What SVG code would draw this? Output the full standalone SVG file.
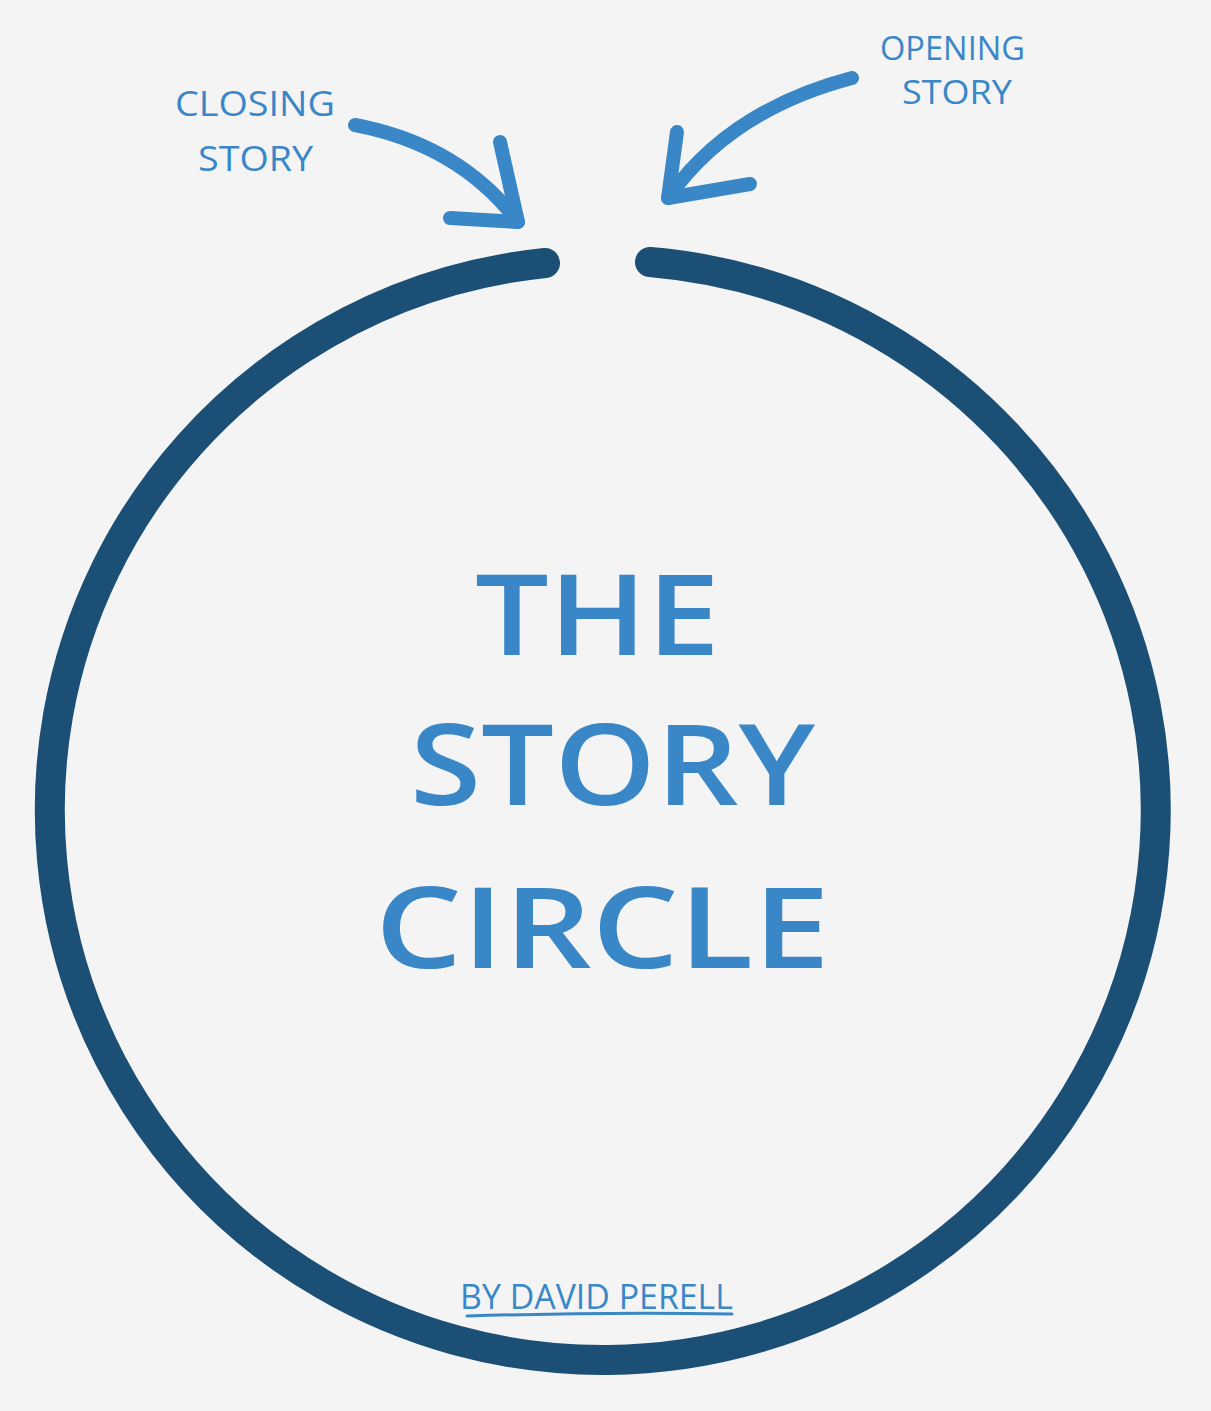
<svg xmlns="http://www.w3.org/2000/svg" width="1211" height="1411" viewBox="0 0 1211 1411">
<style>
.lbl{fill:#3a87c8;font-family:"Open Sans","DejaVu Sans",sans-serif}
.ar{fill:none;stroke:#3a87c8;stroke-width:14;stroke-linecap:round;stroke-linejoin:round}
</style>
<rect width="1211" height="1411" fill="#f4f4f4"/>
<g id="circle">
<path d="M545 263 A553 550 0 1 0 650 262" fill="none" stroke="#1b4f75" stroke-width="30" stroke-linecap="round"/>
</g>
<g id="connectors">
<path class="ar" d="M355 125 Q460 145 518 222"/>
<path class="ar" d="M500 142 L518 222 L450 218"/>
<path class="ar" d="M852 78 Q730 110 668 198"/>
<path class="ar" d="M677 132 L668 198 L750 184"/>
</g>
<g id="closing">
<text class="lbl" x="175" y="116" font-size="34" textLength="160" lengthAdjust="spacingAndGlyphs">CLOSING</text>
<text class="lbl" x="198" y="171" font-size="34" textLength="115" lengthAdjust="spacingAndGlyphs">STORY</text>
</g>
<g id="opening">
<text class="lbl" x="880" y="60" font-size="32" textLength="145" lengthAdjust="spacingAndGlyphs">OPENING</text>
<text class="lbl" x="902" y="104" font-size="32" textLength="110" lengthAdjust="spacingAndGlyphs">STORY</text>
</g>
<g id="title" font-weight="600">
<text class="lbl" x="475" y="655" font-size="112" textLength="245" lengthAdjust="spacingAndGlyphs">THE</text>
<text class="lbl" x="410" y="805" font-size="112" textLength="405" lengthAdjust="spacingAndGlyphs">STORY</text>
<text class="lbl" x="375" y="968" font-size="112" textLength="455" lengthAdjust="spacingAndGlyphs">CIRCLE</text>
</g>
<g id="byline">
<text class="lbl" x="460" y="1309" font-size="34" textLength="273" lengthAdjust="spacingAndGlyphs">BY DAVID PERELL</text>
<path d="M467 1316 Q600 1312 732 1314" fill="none" stroke="#3a87c8" stroke-width="3" stroke-linecap="round"/>
</g>
</svg>
